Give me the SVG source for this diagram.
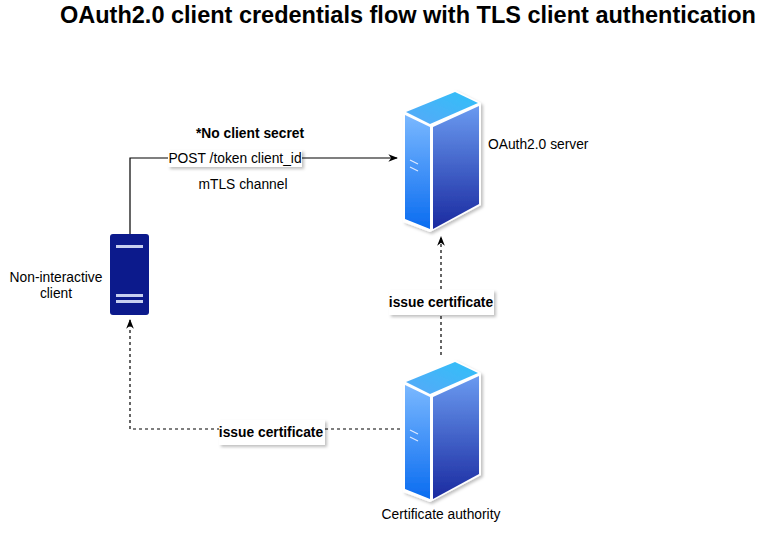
<svg xmlns="http://www.w3.org/2000/svg" width="782" height="536" viewBox="0 0 782 536">
<style>
text{font-family:"Liberation Sans",Arial,sans-serif;font-size:13.8px;fill:#000}
.b{font-weight:bold}
.lbl{fill:#fff;filter:url(#sh)}
.ln{stroke:#000;stroke-width:1.2;fill:none}
.d{stroke-dasharray:3,3}
</style>
<defs>
<marker id="ar" viewBox="0 0 10 10" refX="9" refY="5" markerWidth="8" markerHeight="8" orient="auto"><path d="M0,1 L10,5 L0,9 L3,5 Z" fill="#000"/></marker>
<filter id="sh" x="-10%" y="-20%" width="130%" height="160%"><feDropShadow dx="2" dy="2" stdDeviation="1.5" flood-color="#000" flood-opacity="0.25"/></filter>
<linearGradient id="gl" x1="0" y1="0" x2="0" y2="1"><stop offset="0" stop-color="#7ab8ff"/><stop offset="1" stop-color="#0a6cf0"/></linearGradient>
<linearGradient id="gr" x1="0" y1="0" x2="0" y2="1"><stop offset="0" stop-color="#6a9af0"/><stop offset="1" stop-color="#1a2aa0"/></linearGradient>
<linearGradient id="gt" x1="0" y1="1" x2="1" y2="0"><stop offset="0" stop-color="#58a8f8"/><stop offset="1" stop-color="#30c0f8"/></linearGradient>
<g id="srv" filter="url(#sh)">
<path d="M403,113 L455,90 L481,103 L481,205 L430,232 L403,222 Z" fill="#fff"/>
<path d="M405,115 L430,127 L430,229 L405,219 Z" fill="url(#gl)"/>
<path d="M433,127 L479,106 L479,204 L433,229 Z" fill="url(#gr)"/>
<path d="M406,112 L455,92 L478,103 L430,124 Z" fill="url(#gt)"/>
<path d="M410,160 L418,164 M410,167 L418,171" stroke="#dfeaff" stroke-width="1.2"/>
</g>
</defs>
<text x="408" y="23" text-anchor="middle" class="b" style="font-size:23.5px">OAuth2.0 client credentials flow with TLS client authentication</text>
<g id="connectors">
<path class="ln" d="M130,234 V158 H397" marker-end="url(#ar)"/>
<path class="ln d" d="M400,429 H130 V320" marker-end="url(#ar)"/>
<path class="ln d" d="M441,355 V237" marker-end="url(#ar)"/>
<rect class="lbl" x="168" y="150" width="134" height="17"/>
<text x="235" y="163" text-anchor="middle">POST /token client_id</text>
<text x="250" y="138" text-anchor="middle" class="b">*No client secret</text>
<text x="243" y="189" text-anchor="middle">mTLS channel</text>
<rect class="lbl" x="389" y="290" width="105" height="25"/>
<text x="441" y="307" text-anchor="middle" class="b">issue certificate</text>
<rect class="lbl" x="219" y="420" width="106" height="25"/>
<text x="271" y="437" text-anchor="middle" class="b">issue certificate</text>
</g>
<g id="oauth-server">
<use href="#srv"/>
<text x="488" y="149">OAuth2.0 server</text>
</g>
<g id="ca">
<use href="#srv" transform="translate(0,270)"/>
<text x="441" y="519" text-anchor="middle">Certificate authority</text>
</g>
<g id="client">
<rect x="110" y="234" width="39" height="81" rx="3" fill="#0c1a8c"/>
<rect x="116" y="245" width="27" height="3" fill="#c8d0f0"/>
<rect x="116" y="294" width="27" height="3" fill="#c8d0f0"/>
<rect x="116" y="300" width="27" height="3" fill="#c8d0f0"/>
<text x="56" y="282" text-anchor="middle">Non-interactive</text>
<text x="56" y="298" text-anchor="middle">client</text>
</g>
</svg>
